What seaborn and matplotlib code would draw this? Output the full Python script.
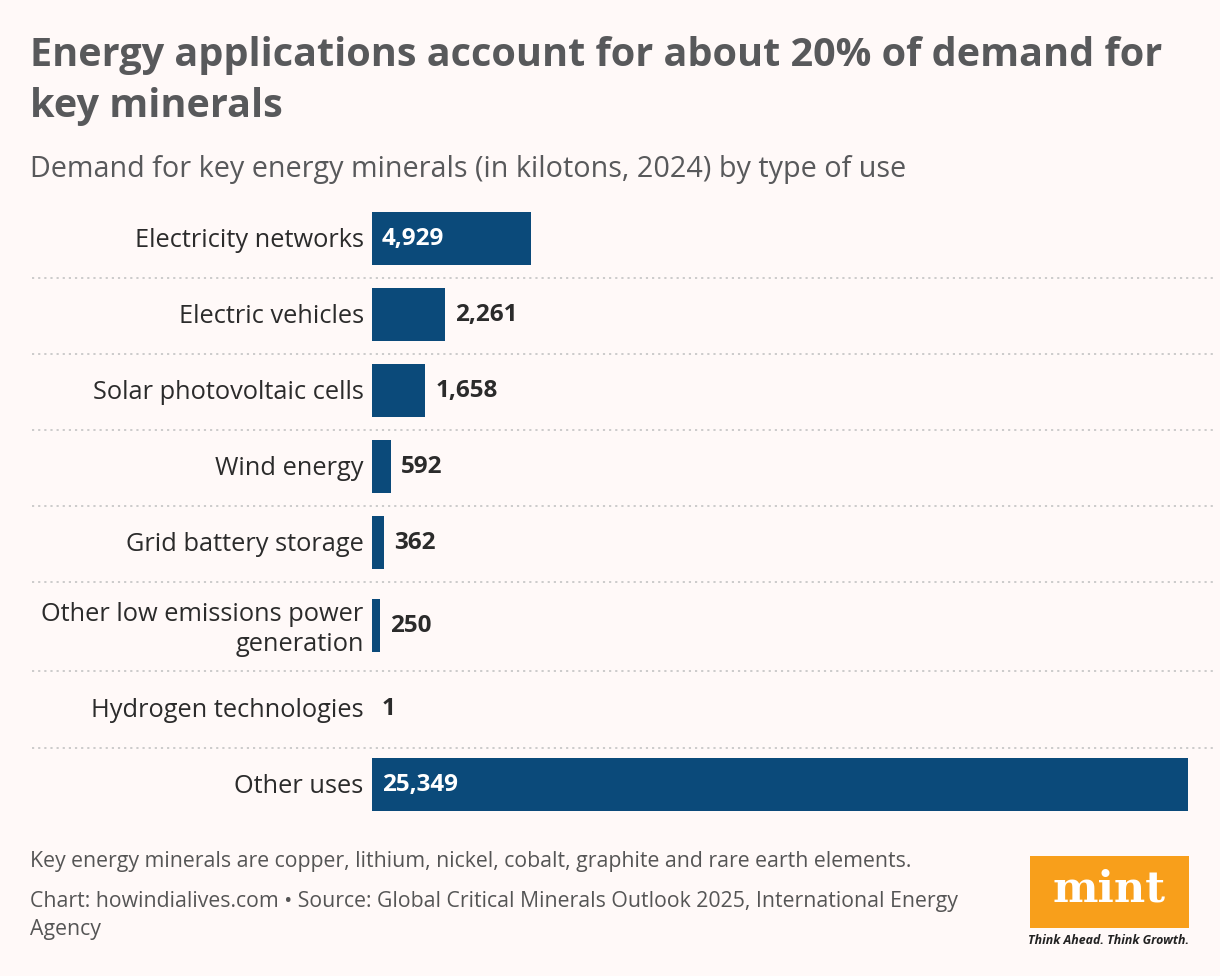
import matplotlib
matplotlib.use("Agg")
import matplotlib.pyplot as plt
import seaborn as sns
import pandas as pd
from matplotlib.lines import Line2D
from matplotlib.patches import Rectangle

categories = ["Electricity networks", "Electric vehicles", "Solar photovoltaic cells",
              "Wind energy", "Grid battery storage",
              "Other low emissions power\ngeneration", "Hydrogen technologies", "Other uses"]
values = [4929, 2261, 1658, 592, 362, 250, 1, 25349]
value_labels = ["4,929", "2,261", "1,658", "592", "362", "250", "1", "25,349"]

BG = "#FFF9F8"
BAR = "#0B4A7A"
TITLE_C = "#58595B"
TEXT_C = "#2B2B2B"

sns.set_theme(style="white")
plt.rcParams["font.family"] = ["Open Sans", "DejaVu Sans"]

W, H = 1220, 976
fig = plt.figure(figsize=(W / 100, H / 100), dpi=100, facecolor=BG)

# layout: y positions in pixel units from top
lines = [c.count("\n") + 1 for c in categories]
pos = [238.0]
for i in range(1, len(categories)):
    pos.append(pos[-1] + 76 + 7 * (lines[i - 1] - 1) + 7 * (lines[i] - 1))

top_px, bot_px = 200, 822
left_px, right_px = 372, 1188
ax = fig.add_axes([left_px / W, 1 - bot_px / H, (right_px - left_px) / W, (bot_px - top_px) / H])
ax.set_facecolor(BG)

df = pd.DataFrame({"cat": categories, "val": values, "pos": pos})
sns.barplot(data=df, x="val", y="pos", orient="h", native_scale=True,
            color=BAR, saturation=1, width=53 / 76, ax=ax, linewidth=0)
ax.set_xlim(0, max(values))
ax.set_ylim(bot_px, top_px)
for s in ax.spines.values():
    s.set_visible(False)
ax.set_xticks([])
ax.set_yticks([p - 1 for p in pos])
ax.set_yticklabels(categories, fontsize=18.3, color=TEXT_C, linespacing=1.25)
ax.tick_params(axis="y", length=0, pad=6)
for t in ax.get_yticklabels():
    t.set_horizontalalignment("right")
ax.set_xlabel("")
ax.set_ylabel("")

px_per_unit = (right_px - left_px) / max(values)
for v, lab, p in zip(values, value_labels, pos):
    if v * px_per_unit > 120:
        ax.text(10 / px_per_unit, p + 0.5, lab, color="white", fontsize=17.5, fontweight="bold",
                va="center", ha="left")
    else:
        ax.text(v + 10 / px_per_unit, p + 0.5, lab, color=TEXT_C, fontsize=17.5, fontweight="bold",
                va="center", ha="left")

# dotted separators
for i in range(len(pos) - 1):
    y = (pos[i] + pos[i + 1]) / 2 + (1.5 if lines[i] == 1 and lines[i + 1] == 1 else 0)
    if lines[i] > 1:
        y = pos[i] + 46
    if lines[i + 1] > 1:
        y = pos[i + 1] - 43
    fig.add_artist(Line2D([32 / W, 1215 / W], [1 - y / H, 1 - y / H], color="#C8C8C8",
                          linestyle=(0, (1.2, 2.2)), linewidth=1.3))

# titles
fig.text(30 / W, 1 - 66 / H, "Energy applications account for about 20% of demand for",
         fontsize=28.5, fontweight="bold", color=TITLE_C, va="baseline", ha="left")
fig.text(30 / W, 1 - 117 / H, "key minerals",
         fontsize=28.5, fontweight="bold", color=TITLE_C, va="baseline", ha="left")
fig.text(30 / W, 1 - 177 / H, "Demand for key energy minerals (in kilotons, 2024) by type of use",
         fontsize=20.7, color=TITLE_C, va="baseline", ha="left")

# footer
fig.text(30 / W, 1 - 862 / H, "Key energy minerals are copper, lithium, nickel, cobalt, graphite and rare earth elements.",
         fontsize=15.3, color="#555555", va="center", ha="left")
fig.text(30 / W, 1 - 901 / H, "Chart: howindialives.com \u2022 Source: Global Critical Minerals Outlook 2025, International Energy",
         fontsize=15.3, color="#555555", va="center", ha="left")
fig.text(30 / W, 1 - 930 / H, "Agency",
         fontsize=15.3, color="#555555", va="center", ha="left")

# mint logo
fig.add_artist(Rectangle((1030 / W, 1 - 928 / H), 159 / W, 72 / H, transform=fig.transFigure,
                         facecolor="#F89F1B", edgecolor="none"))
fig.text(1109 / W, 1 - 889 / H, "mint", fontsize=31, fontweight="bold", color="white",
         family=["DejaVu Serif"], ha="center", va="center")
fig.text(1109 / W, 1 - 941 / H, "Think Ahead. Think Growth.", fontsize=8.9, fontweight="bold",
         style="italic", color="#222222", ha="center", va="center")

fig.savefig("out.png", dpi=100, facecolor=BG)
